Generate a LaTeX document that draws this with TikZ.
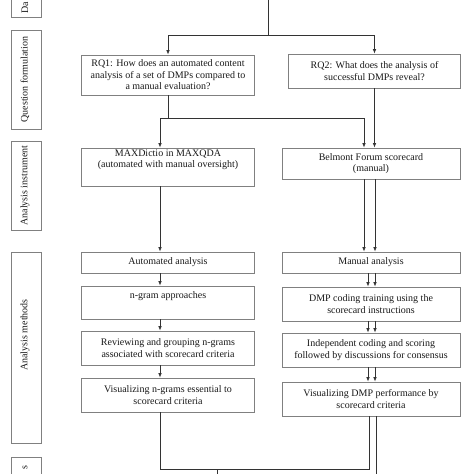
\documentclass[tikz,border=0pt]{standalone}
\usepackage{fontspec}
\setmainfont{Liberation Serif}
\usetikzlibrary{arrows.meta}
\begin{document}
\begin{tikzpicture}[x=1pt,y=-1pt,
 box/.style={draw=black!50, line width=0.8pt, inner sep=0pt, minimum width=173pt, fill=white},
 rbox/.style={box, minimum width=178pt},
 txt/.style={font=\fontsize{10}{11.5}\selectfont, align=center, inner sep=0pt, text=black!90},
 con/.style={draw=black!80, line width=0.8pt},
 arr/.style={con, -{Latex[length=4.5pt,width=3.6pt]}},
 side/.style={draw=black!50, line width=0.8pt},
 sidetxt/.style={txt, rotate=90}]
\useasboundingbox (0,0) rectangle (474,474);
\clip (0,0) rectangle (474,474);

% sidebar
\draw[side] (11,-40) rectangle (41,17);
\node[sidetxt, anchor=west] (s0) at (25,13.5) {Da};
\draw[side] (11,30) rectangle (41,129);
\node[sidetxt] (s1) at (25,79.5) {Question formulation};
\draw[side] (11,141) rectangle (41,230);
\node[sidetxt] (s2) at (25,185.5) {Analysis instrument};
\draw[side] (11,252) rectangle (41,443);
\node[sidetxt] (s3) at (25,335) {Analysis methods};
\draw[side] (11,457) rectangle (41,520);
\node[sidetxt, anchor=east] (s4) at (25,465) {s};

% left column
\node[box, txt, minimum height=40pt] (rq1) at (168,75) {RQ1: How does an automated content\\analysis of a set of DMPs compared to\\a manual evaluation?};
\node[box, minimum height=38pt] (maxd) at (168,167) {};
\node[txt] (maxdt) at (168,160) {MAXDictio in MAXQDA\\(automated with manual oversight)};
\node[box, txt, minimum height=21pt] (auto) at (168,262.5) {Automated analysis};
\node[box, minimum height=33pt] (ngram) at (168,302.5) {};
\node[txt] (ngramt) at (168,296) {n-gram approaches};
\node[box, txt, minimum height=34pt] (review) at (168,348) {Reviewing and grouping n-grams\\associated with scorecard criteria};
\node[box, txt, minimum height=34pt] (visn) at (168,395) {Visualizing n-grams essential to\\scorecard criteria};

% right column
\node[box, txt, minimum width=172pt, minimum height=34pt] (rq2) at (374.5,71) {RQ2: What does the analysis of\\successful DMPs reveal?};
\node[rbox, txt, minimum height=31pt] (belm) at (371,163.5) {Belmont Forum scorecard\\(manual)};
\node[rbox, txt, minimum height=21pt] (man) at (371,262.5) {Manual analysis};
\node[rbox, txt, minimum height=34pt] (dmpc) at (371,304) {DMP coding training using the\\scorecard instructions};
\node[rbox, txt, minimum height=34pt] (indep) at (371,350) {Independent coding and scoring\\followed by discussions for consensus};
\node[rbox, txt, minimum height=34pt] (visd) at (371,399) {Visualizing DMP performance by\\scorecard criteria};

% helper coordinates
\coordinate (lx) at (160,0);
\coordinate (ra) at (364,0);
\coordinate (rb) at (375,0);
\coordinate (rc) at (368,0);
\coordinate (rd) at (375,0);
\coordinate (re) at (369,0);
\coordinate (rf) at (376,0);
\coordinate (t0) at (268,-5);
\coordinate (j1) at (268,35);
\coordinate (j2) at (168,118);
\coordinate (b2) at (369,469);
\coordinate (bo) at (217,469);
\coordinate (bend) at (217,492);
\coordinate (bf) at (376,492);

% connectors
\draw[con] (t0) -- (j1);
\draw[arr] (j1) -| (rq1.north);
\draw[arr] (j1) -| (rq2.north);
\draw[con] (rq1.south) -- (j2);
\draw[arr] (j2) -| (maxd.north -| lx);
\draw[arr] (j2) -| (belm.north -| ra);
\draw[arr] (rq2.south) -- (rq2.south |- belm.north);

\draw[arr] (maxd.south -| lx) -- (auto.north -| lx);
\draw[arr] (auto.south -| lx) -- (ngram.north -| lx);
\draw[arr] (ngram.south -| lx) -- (review.north -| lx);
\draw[arr] (review.south -| lx) -- (visn.north -| lx);

\draw[arr] (belm.south -| ra) -- (man.north -| ra);
\draw[arr] (belm.south -| rb) -- (man.north -| rb);
\draw[arr] (man.south -| rc) -- (dmpc.north -| rc);
\draw[arr] (man.south -| rd) -- (dmpc.north -| rd);
\draw[arr] (dmpc.south -| rc) -- (indep.north -| rc);
\draw[arr] (dmpc.south -| rd) -- (indep.north -| rd);
\draw[arr] (indep.south -| rc) -- (visd.north -| rc);
\draw[arr] (indep.south -| rd) -- (visd.north -| rd);

\draw[con] (visn.south -| lx) |- (b2) -- (visd.south -| re);
\draw[arr] (bo) -- (bend);
\draw[con] (visd.south -| rf) -- (bf);
\end{tikzpicture}
\end{document}
